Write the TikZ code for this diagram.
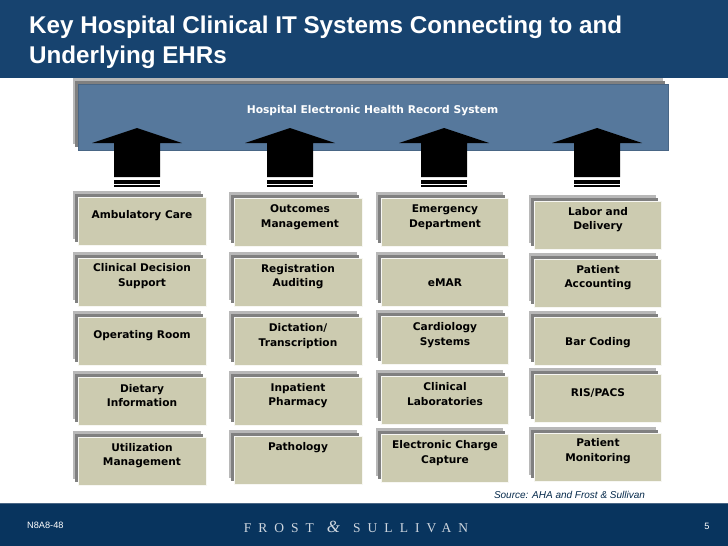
\documentclass[tikz,border=0pt]{standalone}
\usepackage{fontspec}
\setmainfont{Liberation Sans}
\newfontfamily\boxfont{DejaVu Sans}
\newfontfamily\logofont{Liberation Serif}
\usetikzlibrary{shadows}
\definecolor{bandblue}{HTML}{17436F}
\definecolor{footblue}{HTML}{08345E}
\definecolor{ehrblue}{HTML}{56789C}
\definecolor{boxtan}{HTML}{CCCBB0}
\tikzset{
	moduleface/.style={anchor=north west, inner sep=0pt, outer sep=0pt, fill=boxtan, draw=white!85!boxtan, line width=0.5pt,
		general shadow={shadow xshift=-5pt, shadow yshift=6pt, fill=black!28},
		general shadow={shadow xshift=-3pt, shadow yshift=3.5pt, fill=black!50}},
	modulelabel/.style={font=\boxfont\bfseries\fontsize{10.6}{14.5}\selectfont, align=center, text=black, inner sep=0pt, yshift=-1pt},
}
\begin{document}
\begin{tikzpicture}[x=1pt, y=-1pt, line join=miter]
	\useasboundingbox (0, 0) rectangle (728, 546);
	\fill[white] (0, 0) rectangle (728, 546);

	% title and footer
	\fill[bandblue] (0, 0) rectangle (728, 78);
	\fill[footblue] (0, 503) rectangle (728, 546);
	\fill[black!15!ehrblue] (0, 503) rectangle (728, 504);
	\node[anchor=north west, align=left, inner sep=0pt, text=white, font=\bfseries\fontsize{24.2}{30}\selectfont] (title) at (29, 16) {Key Hospital Clinical IT Systems Connecting to and\\Underlying EHRs};
	\node[anchor=west, inner sep=0pt, text=white, font=\fontsize{9.2}{10}\selectfont] (code) at (27, 525) {N8A8-48};
	\node[inner sep=0pt, text=white!80!footblue, font=\logofont\fontsize{13.5}{14}\selectfont] (logo) at (356, 527) {\addfontfeature{LetterSpace=52}FROST\hspace{13pt}{\itshape\fontsize{17}{14}\selectfont\&}\hspace{13pt}SULLIVAN};
	\node[inner sep=0pt, text=white, font=\fontsize{9.2}{10}\selectfont] (page) at (707, 526) {5};
	\node[inner sep=0pt, text=black!20!footblue, font=\itshape\fontsize{10}{11}\selectfont] (source) at (569.5, 495) {Source: AHA and Frost \& Sullivan};

	% EHR bar
	\node[moduleface, fill=ehrblue, draw=ehrblue!85!black, minimum width=590pt, minimum height=66pt] (ehr) at (78, 84) {};
	\node[inner sep=0pt, text=white, font=\boxfont\bfseries\fontsize{10.7}{12}\selectfont] (ehrtext) at (372.5, 111) {Hospital Electronic Health Record System};

	% arrows
	\foreach \x in {137, 290, 444, 597} {
		\fill[black] (\x, 128) -- (\x+45, 143) -- (\x+23, 143) -- (\x+23, 177) -- (\x-23, 177) -- (\x-23, 143) -- (\x-45, 143) -- cycle;
		\fill[black] (\x-23, 180) rectangle (\x+23, 184);
		\fill[black] (\x-23, 185) rectangle (\x+23, 187);
	}

	% column 1
	\foreach \y/\name in {197/ambu, 258/decision, 317/oproom, 377/dietary, 437/utilization}
		\node[moduleface, minimum width=128pt, minimum height=48pt] (\name) at (78, \y) {};
	\node[modulelabel] (ambutext) at (142, 215) {Ambulatory Care};
	\node[modulelabel] (decisiontext) at (142, 275) {Clinical Decision\\Support};
	\node[modulelabel] (oproomtext) at (142, 335) {Operating Room};
	\node[modulelabel] (dietarytext) at (142, 394.5) {Dietary\\Information};
	\node[modulelabel] (utilizationtext) at (142, 454.5) {Utilization\\Management};

	% column 2
	\foreach \y/\name in {198/outcomes, 258/registration, 317/dictation, 377/inpatient, 436/pathology}
		\node[moduleface, minimum width=128pt, minimum height=48pt] (\name) at (234, \y) {};
	\node[modulelabel] (outcomestext) at (300, 216) {Outcomes\\Management};
	\node[modulelabel] (registrationtext) at (298, 275.5) {Registration\\Auditing};
	\node[modulelabel] (dictationtext) at (298, 335) {Dictation/\\Transcription};
	\node[modulelabel] (inpatienttext) at (298, 394.5) {Inpatient\\Pharmacy};
	\node[modulelabel] (pathologytext) at (298, 447) {Pathology};

	% column 3
	\foreach \y/\name in {198/emergency, 258/emar, 316/cardiology, 376/laboratories, 434/charge}
		\node[moduleface, minimum width=127pt, minimum height=48pt] (\name) at (381, \y) {};
	\node[modulelabel] (emergencytext) at (445, 216) {Emergency\\Department};
	\node[modulelabel] (emartext) at (445, 282) {eMAR};
	\node[modulelabel] (cardiologytext) at (445, 334) {Cardiology\\Systems};
	\node[modulelabel] (laboratoriestext) at (445, 393) {Clinical\\Laboratories};
	\node[modulelabel] (chargetext) at (445, 452) {Electronic Charge\\Capture};

	% column 4
	\foreach \y/\name in {201/labor, 259/accounting, 317/barcoding, 374/radiology, 433/monitoring}
		\node[moduleface, minimum width=127pt, minimum height=48pt] (\name) at (534, \y) {};
	\node[modulelabel] (labortext) at (598, 218.5) {Labor and\\Delivery};
	\node[modulelabel] (accountingtext) at (598, 276.5) {Patient\\Accounting};
	\node[modulelabel] (barcodingtext) at (598, 342) {Bar Coding};
	\node[modulelabel] (radiologytext) at (598, 392) {RIS/PACS};
	\node[modulelabel] (monitoringtext) at (598, 450) {Patient\\Monitoring};
\end{tikzpicture}
\end{document}
